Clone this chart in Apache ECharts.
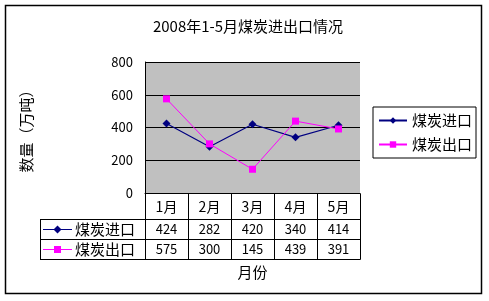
<!DOCTYPE html>
<html><head><meta charset="utf-8">
<script src="https://cdn.jsdelivr.net/npm/echarts/dist/echarts.min.js"></script>
<style>html,body{margin:0;padding:0;background:#fff}#c{width:489px;height:301px}</style>
</head><body><div id="c"></div>
<script>
const categories = ['1月', '2月', '3月', '4月', '5月'];
const importValues = [424, 282, 420, 340, 414];
const exportValues = [575, 300, 145, 439, 391];
const yTicks = [0, 200, 400, 600, 800];
const seriesNames = ['煤炭进口', '煤炭出口'];
const titleText = '2008年1-5月煤炭进出口情况';
const yName = '数量（万吨）';
const xName = '月份';

const FONT = '"Noto Sans CJK SC", "Noto Sans", sans-serif';
const importColor = '#000080';
const exportColor = '#FF00FF';

const chart = echarts.init(document.getElementById('c'), null, {renderer: 'canvas'});
const gridL = 145, gridT = 62, gridW = 215, gridH = 131;

chart.setOption({
  animation: false,
  backgroundColor: '#fff',
  title: {
    text: titleText, left: 243, top: 14, textAlign: 'center',
    textStyle: {fontFamily: FONT, fontSize: 15, fontWeight: 'normal', color: '#000'}
  },
  legend: {
    orient: 'vertical', left: 373, top: 107,
    data: seriesNames,
    borderColor: '#000', borderWidth: 1, padding: [6, 4, 6, 5],
    itemGap: 9, itemWidth: 28, itemHeight: 8,
    textStyle: {fontFamily: FONT, fontSize: 15, color: '#000'}
  },
  grid: {left: gridL, top: gridT, width: gridW, height: gridH, show: true,
         backgroundColor: '#C0C0C0', borderWidth: 0},
  xAxis: {
    type: 'category', data: categories, boundaryGap: true,
    axisLine: {lineStyle: {color: '#000', width: 1}},
    axisTick: {show: false}, axisLabel: {show: false}, splitLine: {show: false}
  },
  yAxis: {
    type: 'value', min: yTicks[0], max: yTicks[yTicks.length - 1], interval: yTicks[1] - yTicks[0],
    name: yName, nameLocation: 'middle', nameRotate: 90, nameGap: 111,
    nameTextStyle: {fontFamily: FONT, fontSize: 15, color: '#000'},
    axisLine: {show: true, lineStyle: {color: '#000'}},
    axisTick: {show: false},
    axisLabel: {margin: 12, fontFamily: FONT, fontSize: 13, color: '#000'},
    splitLine: {lineStyle: {color: '#000', width: 1}}
  },
  series: [
    {name: seriesNames[0], type: 'line', data: importValues, symbol: 'diamond', symbolSize: 8,
     lineStyle: {color: importColor, width: 1.2}, itemStyle: {color: importColor}},
    {name: seriesNames[1], type: 'line', data: exportValues, symbol: 'rect', symbolSize: 7,
     lineStyle: {color: exportColor, width: 1}, itemStyle: {color: exportColor}}
  ]
});

// Data table under the plot, columns aligned to the category axis
const centers = categories.map((c, i) => chart.convertToPixel({xAxisIndex: 0}, i));
const bw = centers.length > 1 ? centers[1] - centers[0] : gridW;
const edges = centers.map(c => c - bw / 2).concat([centers[centers.length - 1] + bw / 2]);
const rowTop = gridT + gridH;           // plot bottom
const rowY = [rowTop, rowTop + 26, rowTop + 46, rowTop + 66];
const tableLeft = 40;
const g = [];
const line = (x1, y1, x2, y2, color, w) => ({type: 'line', silent: true,
  shape: {x1, y1, x2, y2}, style: {stroke: color || '#000', lineWidth: w || 1}});
const crisp = v => Math.round(v) + 0.5;

g.push({type: 'rect', shape: {x: 5.5, y: 5.5, width: 476, height: 288},
        style: {fill: null, stroke: '#000', lineWidth: 1.5}, z: -1, silent: true});
// horizontal lines
g.push(line(tableLeft, crisp(rowY[1]), crisp(edges[edges.length - 1]), crisp(rowY[1])));
g.push(line(tableLeft, crisp(rowY[2]), crisp(edges[edges.length - 1]), crisp(rowY[2])));
g.push(line(tableLeft, crisp(rowY[3]), crisp(edges[edges.length - 1]), crisp(rowY[3])));
// vertical lines
g.push(line(crisp(tableLeft), crisp(rowY[1]), crisp(tableLeft), crisp(rowY[3])));
edges.forEach(x => g.push(line(crisp(x), crisp(rowY[0]), crisp(x), crisp(rowY[3]))));

const txt = (text, x, y, align, size) => ({type: 'text', silent: true, x, y,
  style: {text, fill: '#000', font: (size || 14) + 'px ' + FONT, align: align || 'center', verticalAlign: 'middle'}});

categories.forEach((c, i) => g.push(txt(c, centers[i], (rowY[0] + rowY[1]) / 2 + 1, 'center', 14)));
importValues.forEach((v, i) => g.push(txt(String(v), centers[i], (rowY[1] + rowY[2]) / 2, 'center', 13)));
exportValues.forEach((v, i) => g.push(txt(String(v), centers[i], (rowY[2] + rowY[3]) / 2, 'center', 13)));

// legend keys inside the table
const ky1 = crisp((rowY[1] + rowY[2]) / 2), ky2 = crisp((rowY[2] + rowY[3]) / 2);
g.push(line(43, ky1, 72, ky1, importColor, 1));
g.push({type: 'polygon', silent: true, shape: {points: [[57.5, ky1 - 4], [61.5, ky1], [57.5, ky1 + 4], [53.5, ky1]]},
        style: {fill: importColor}});
g.push(line(43, ky2, 72, ky2, exportColor, 1));
g.push({type: 'rect', silent: true, shape: {x: 54, y: ky2 - 3.5, width: 7, height: 7}, style: {fill: exportColor}});
g.push(txt(seriesNames[0], 75, (rowY[1] + rowY[2]) / 2, 'left', 15));
g.push(txt(seriesNames[1], 75, (rowY[2] + rowY[3]) / 2, 'left', 15));

g.push(txt(xName, gridL + gridW / 2, 272, 'center', 15));

chart.setOption({graphic: g});
</script></body></html>
